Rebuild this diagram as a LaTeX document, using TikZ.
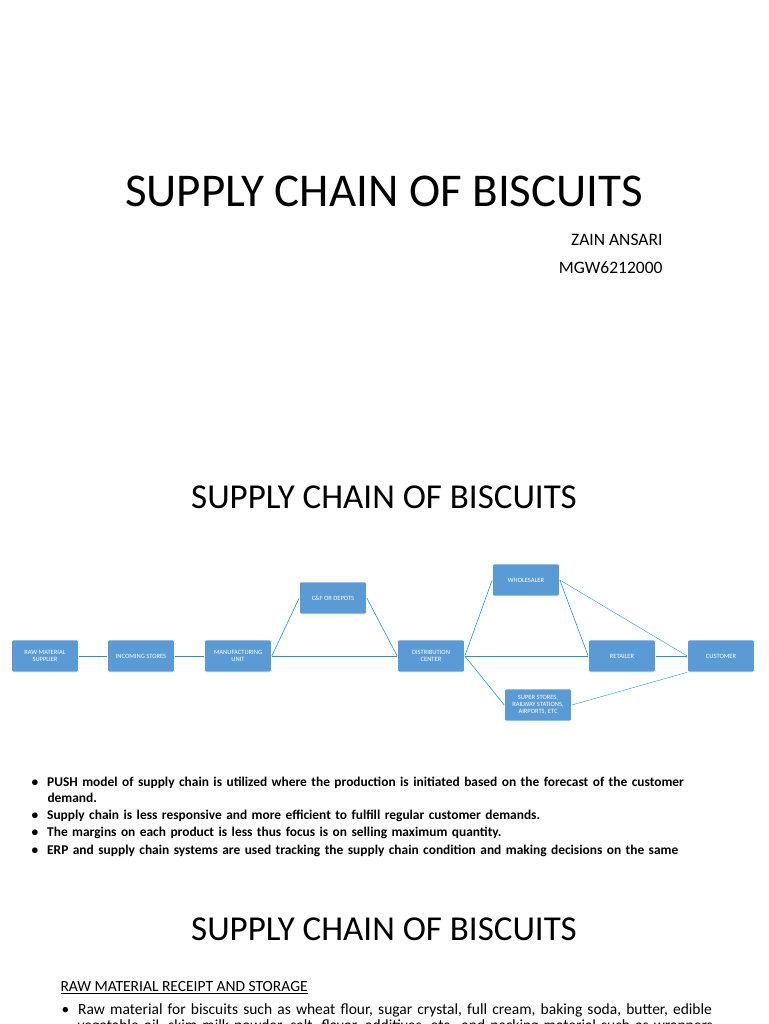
\documentclass[tikz,border=0pt]{standalone}
\usepackage{fontspec}
\setmainfont{Carlito}
\begin{document}
\begin{tikzpicture}[x=1pt,y=-1pt,
  bx/.style={draw=white,line width=0.6pt,rounded corners=2pt,minimum width=67pt,minimum height=32pt,inner sep=1pt,align=center,text=white,font=\fontsize{6.5}{7}\selectfont},
  ln/.style={draw=black!20!blue!40!cyan!70!gray,line width=0.6pt},
  bt/.style={anchor=west,font=\fontsize{13.4}{16}\selectfont\bfseries,align=left,text width=720pt}]
\definecolor{boxblue}{RGB}{91,155,213}
\tikzset{bx/.append style={fill=boxblue}}
\useasboundingbox (0,0) rectangle (768,1024);
\clip (0,0) rectangle (768,1024);
\node (t1) at (384,191) {\fontsize{47}{50}\selectfont SUPPLY CHAIN OF BISCUITS};
\node[anchor=east] (n1) at (666,240) {\fontsize{17.5}{20}\selectfont ZAIN ANSARI};
\node[anchor=east] (n2) at (666,268) {\fontsize{17.5}{20}\selectfont MGW6212000};
\node (t2) at (384,497) {\fontsize{35}{38}\selectfont SUPPLY CHAIN OF BISCUITS};
\node[bx] (raw) at (45,656) {RAW MATERIAL\\SUPPLIER};
\node[bx] (inc) at (141,656) {INCOMING STORES};
\node[bx] (man) at (238,656) {MANUFACTURING\\UNIT};
\node[bx] (cf) at (333,598) {C\&F OR DEPOTS};
\node[bx] (dc) at (431,656) {DISTRIBUTION\\CENTER};
\node[bx] (wh) at (526,580) {WHOLESALER};
\node[bx] (ret) at (622,656) {RETAILER};
\node[bx] (cus) at (721,656) {CUSTOMER};
\node[bx] (sup) at (538,705) {SUPER STORES,\\RAILWAY STATIONS,\\AIRPORTS, ETC};
\draw[ln] (raw) -- (inc);
\draw[ln] (inc) -- (man);
\draw[ln] (man.east) -- (cf.west);
\draw[ln] (cf.east) -- (dc.west);
\draw[ln] (man) -- (dc);
\draw[ln] (dc.east) -- (wh.west);
\draw[ln] (dc) -- (ret);
\draw[ln] (dc.east) -- (sup.west);
\draw[ln] (wh.east) -- (ret.west);
\draw[ln] (ret) -- (cus);
\draw[ln,line width=0.4pt] (wh.east) -- (cus.west);
\draw[ln,line width=0.4pt] (sup.east) -- (cus.south west);
\node[bt] (b1) at (28,790) {\raggedright\textbullet\hspace{9pt}PUSH model of supply chain is utilized where the production is initiated based on the forecast of the customer\\\hspace*{16pt}demand.};
\node[bt] (b2) at (28,816) {\textbullet\hspace{9pt}Supply chain is less responsive and more efficient to fulfill regular customer demands.};
\node[bt] (b3) at (28,833) {\textbullet\hspace{9pt}The margins on each product is less thus focus is on selling maximum quantity.};
\node[bt] (b4) at (28,851) {\textbullet\hspace{9pt}ERP and supply chain systems are used tracking the supply chain condition and making decisions on the same};
\node (t3) at (384,929) {\fontsize{35}{38}\selectfont SUPPLY CHAIN OF BISCUITS};
\node[anchor=west] (h) at (57,988) {\fontsize{15.5}{18}\selectfont\underline{RAW MATERIAL RECEIPT AND STORAGE}};
\node[anchor=north west,font=\fontsize{15.5}{16}\selectfont,align=left,text width=740pt] (b5) at (58,1000) {\raggedright\textbullet\hspace{9pt}Raw material for biscuits such as wheat flour, sugar crystal, full cream, baking soda, butter, edible\\\hspace*{16pt}vegetable oil, skim milk powder, salt, flavor, additives, etc. and packing material such as wrappers};
\end{tikzpicture}
\end{document}
